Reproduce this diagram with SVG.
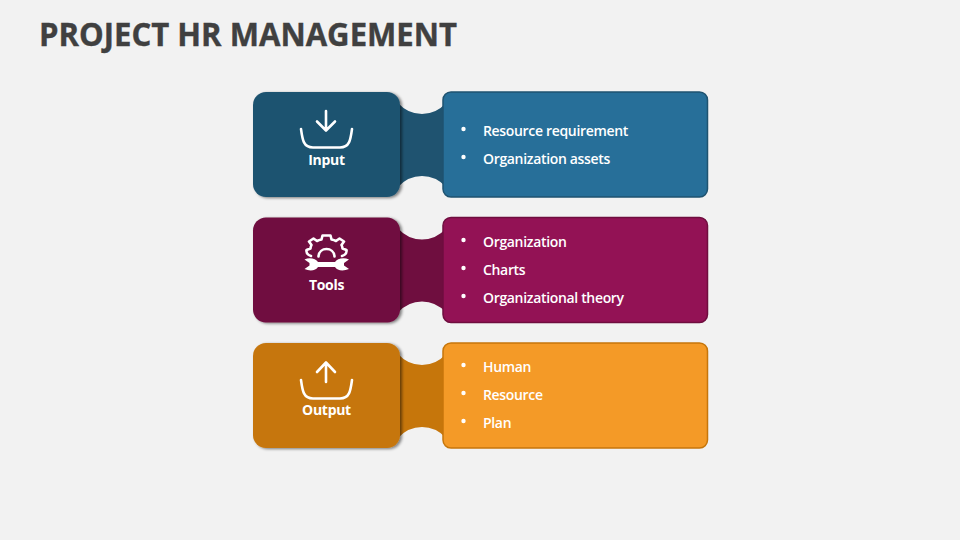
<svg xmlns="http://www.w3.org/2000/svg" width="960" height="540" viewBox="0 0 960 540">
<defs>
<style>
.title{font:700 32.5px "Open Sans",sans-serif;fill:#404040;stroke:#404040;stroke-width:.4px}
.lab{font:700 14px "Open Sans",sans-serif;fill:#fff;text-anchor:middle;letter-spacing:-.3px}
.item{font:600 14px "Open Sans",sans-serif;fill:#fff;letter-spacing:-.33px}
.ic{fill:none;stroke:#fff;stroke-width:2.600;stroke-linecap:round;stroke-linejoin:round}
.dot{fill:#fff}
</style>
<filter id="sh" x="-10%" y="-10%" width="125%" height="125%">
<feGaussianBlur in="SourceAlpha" stdDeviation="1.400"/>
<feOffset dx="2" dy="0.500"/>
<feComponentTransfer><feFuncA type="linear" slope="0.5"/></feComponentTransfer>
<feMerge><feMergeNode/><feMergeNode in="SourceGraphic"/></feMerge>
</filter>
<path id="neck" d="M398 103Q408 114 422 114Q436 114 446 103V187Q436 176 422 176Q408 176 398 187Z"/>
</defs>
<rect width="960" height="540" fill="#f2f2f2"/>
<text class="title" x="39" y="45.500" textLength="418" lengthAdjust="spacingAndGlyphs">PROJECT HR MANAGEMENT</text>
<g id="connectors">
<use href="#neck" fill="#1f5370"/>
<use href="#neck" y="125.500" fill="#6f0e3f"/>
<use href="#neck" y="251" fill="#c6760b"/>
</g>
<g id="input">
<rect x="253" y="92" width="147" height="105" rx="13" fill="#1f5370" filter="url(#sh)"/>
<path class="ic" d="M326 111V130M317 121.500L326 130.500L335 121.500M301 129C302.500 140 303.500 147.500 313 147.500H340C349.500 147.500 350.500 140 352 129"/>
<text class="lab" x="326.500" y="165">Input</text>
</g>
<g id="input-detail">
<rect x="443" y="92" width="264.500" height="105" rx="8" fill="#276f99" stroke="#1f5370" stroke-width="1.500"/>
<circle class="dot" cx="463.500" cy="129" r="2.200"/><text class="item" x="483" y="136">Resource requirement</text>
<circle class="dot" cx="463.500" cy="157" r="2.200"/><text class="item" x="483" y="164">Organization assets</text>
</g>
<g id="tools">
<rect x="253" y="217.500" width="147" height="105" rx="13" fill="#6f0e3f" filter="url(#sh)"/>
<path class="ic" d="M311 256C308 255 306 253 306.500 250L310.500 248.500C310.500 247 311 246 311.500 245L309 241.500L313.500 238.500L317 241C318.500 240.200 320 239.800 321.500 239.500L322.500 235.500H330.500L331.500 239.500C333 239.800 334.500 240.200 336 241L339.500 238.500L344 241.500L341.500 245C342 246 342.500 247 342.500 248.500L346.500 250C347 253 345 255 342 256"/>
<path class="ic" d="M318.500 256.500C319 246.500 334 246.500 334.500 256.500"/>
<path fill="#fff" d="M304.500 259.500C310 257 316 259 318 262H335C337 259 343 257 349 259.500L344 263V265.500L349 269C343 271.500 337 270.500 335 267H318C316 270.500 310 271.500 304.500 269L309.500 265.500V263Z"/>
<text class="lab" x="326.500" y="290">Tools</text>
</g>
<g id="tools-detail">
<rect x="443" y="217.500" width="264.500" height="105" rx="8" fill="#931255" stroke="#6f0e3f" stroke-width="1.500"/>
<circle class="dot" cx="463.500" cy="240" r="2.200"/><text class="item" x="483" y="247">Organization</text>
<circle class="dot" cx="463.500" cy="268" r="2.200"/><text class="item" x="483" y="275">Charts</text>
<circle class="dot" cx="463.500" cy="296" r="2.200"/><text class="item" x="483" y="303">Organizational theory</text>
</g>
<g id="output">
<rect x="253" y="343" width="147" height="105" rx="13" fill="#c6760b" filter="url(#sh)"/>
<path class="ic" d="M326 363V382M317 372L326 362.500L335 372M301 380C302.500 391 303.500 398.500 313 398.500H340C349.500 398.500 350.500 391 352 380"/>
<text class="lab" x="326.500" y="415">Output</text>
</g>
<g id="output-detail">
<rect x="443" y="343" width="264.500" height="105" rx="8" fill="#f49a27" stroke="#c6760b" stroke-width="1.500"/>
<circle class="dot" cx="463.500" cy="365" r="2.200"/><text class="item" x="483" y="372">Human</text>
<circle class="dot" cx="463.500" cy="393" r="2.200"/><text class="item" x="483" y="400">Resource</text>
<circle class="dot" cx="463.500" cy="421" r="2.200"/><text class="item" x="483" y="428">Plan</text>
</g>
</svg>
